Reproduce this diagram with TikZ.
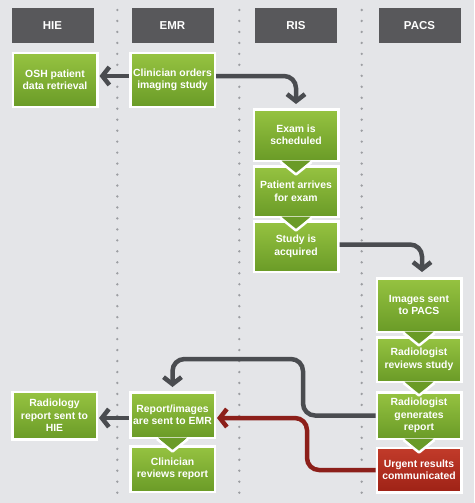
\documentclass[tikz,border=0pt]{standalone}
\usepackage{fontspec}
\setmainfont{Liberation Sans}
\usetikzlibrary{arrows.meta,calc,shadows}
\definecolor{bgc}{HTML}{E4E5E8}
\definecolor{hdrc}{HTML}{58585B}
\definecolor{gtop}{HTML}{96C341}
\definecolor{gbot}{HTML}{6A9B27}
\definecolor{rtop}{HTML}{C23B2A}
\definecolor{rbot}{HTML}{9E2216}
\definecolor{arrc}{HTML}{4A4C50}
\definecolor{redarrc}{HTML}{8C1F1A}
\definecolor{dotc}{HTML}{9C9EA2}
\newcommand{\mychev}[2]{%
  \fill[#2] ([xshift=-14.5pt,yshift=1.3pt]#1.south) -- ([xshift=14.5pt,yshift=1.3pt]#1.south) -- ([yshift=-12.5pt]#1.south) -- cycle;
  \draw[white,line width=2.5pt,line join=round] ([xshift=-15.5pt]#1.south) -- ([yshift=-12.5pt]#1.south) -- ([xshift=15.5pt]#1.south);}
\begin{document}
\begin{tikzpicture}[x=1pt,y=-1pt,
  hdr/.style={fill=hdrc, text=white, font=\fontsize{11.5}{13}\selectfont\bfseries,
    minimum width=82pt, minimum height=35pt, inner sep=0pt},
  box/.style={draw=white, line width=2.5pt, top color=gtop, bottom color=gbot,
    text=white, font=\fontsize{10.4}{12.5}\selectfont\bfseries, align=center,
    minimum width=84.5pt, inner sep=0pt,
    drop shadow={opacity=0.15, shadow xshift=0pt, shadow yshift=-1.5pt}},
  redbox/.style={box, top color=rtop, bottom color=rbot},
  arr/.style={draw=arrc, line width=4.5pt, rounded corners=12pt,
    -{Straight Barb[length=7pt,width=18pt]}},
  redarr/.style={arr, draw=redarrc}]
\useasboundingbox (0,0) rectangle (474,503);
\fill[bgc] (0,0) rectangle (474,503);
\foreach \x in {117.3,239.3,361.7}
  \draw[dotc, line width=2.6pt, line cap=round, dash pattern=on 0pt off 10.97pt] (\x,10) -- (\x,493);
% headers
\node[hdr] (hHIE) at (52.5,25.5) {HIE};
\node[hdr] (hEMR) at (172.5,25.5) {EMR};
\node[hdr] (hRIS) at (296,25.5) {RIS};
\node[hdr] (hPACS) at (419.5,25.5) {PACS};
% boxes
\node[box, minimum height=53.5pt] (osh) at (55,80) {OSH patient\\data retrieval};
\node[box, minimum height=53.5pt] (order) at (172.5,80) {Clinician orders\\imaging study};
\node[box, minimum height=51.5pt] (exam) at (296,135) {Exam is\\scheduled};
\node[box, minimum height=50.5pt] (arrive) at (296,191.5) {Patient arrives\\for exam};
\node[box, minimum height=50.5pt] (acquired) at (296,246.5) {Study is\\acquired};
\node[box, minimum height=53.5pt] (pacs) at (419,305) {Images sent\\to PACS};
\node[box, minimum height=44.5pt] (reviews) at (419,359.5) {Radiologist\\reviews study};
\node[box, minimum height=46.5pt] (generates) at (419,415.5) {Radiologist\\generates\\report};
\node[redbox, minimum height=44.5pt] (urgent) at (419,470) {Urgent results\\communicated};
\node[box, minimum height=47.5pt] (reportsent) at (54.5,415.5) {Radiology\\report sent to\\HIE};
\node[box, minimum height=45.5pt] (emrsent) at (172.5,415) {Report/images\\are sent to EMR};
\node[box, minimum height=45.5pt] (clinrev) at (172.5,469) {Clinician\\reviews report};
% chevrons
\mychev{exam}{gbot}
\mychev{arrive}{gbot}
\mychev{pacs}{gbot}
\mychev{reviews}{gbot}
\mychev{generates}{gbot}
\mychev{emrsent}{gbot}
% helper coordinates
\coordinate (g1) at (303,359);
\coordinate (r1) at (307,419);
% connectors
\draw[arr, shorten >=1pt] ([yshift=4pt]order.west) -- ([yshift=4pt]osh.east);
\draw[arr, shorten >=4pt] ([yshift=4pt]order.east) -| (exam.north);
\draw[arr, shorten >=5pt] ([yshift=2pt]acquired.east) -| ([xshift=3pt]pacs.north);
\draw[arr, shorten >=4pt] (generates.west) -- (generates.west -| g1) -- (g1) -| (emrsent.north);
\draw[redarr, shorten >=1pt] (urgent.west) -- (urgent.west -| r1) |- ([yshift=-3pt]emrsent.east);
\draw[arr, shorten >=1pt] ([yshift=-3pt]emrsent.west) -- ([yshift=-3pt]emrsent.west -| reportsent.east);
\end{tikzpicture}
\end{document}
